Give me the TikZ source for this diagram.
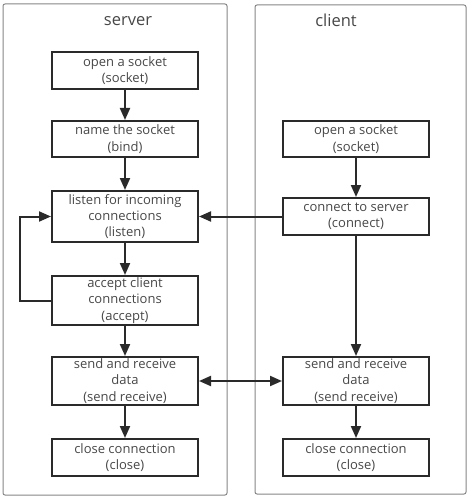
\documentclass[tikz,border=0pt]{standalone}
\usepackage{fontspec}
\setmainfont{Open Sans}
\usetikzlibrary{arrows.meta}
\definecolor{txtgray}{HTML}{474747}
\definecolor{linegray}{HTML}{2A2A2A}
\definecolor{panelgray}{HTML}{858585}
\begin{document}
\begin{tikzpicture}[x=1pt, y=-1pt,
  panel/.style={draw=panelgray, line width=1pt, rounded corners=2pt},
  title/.style={font=\fontsize{16.5}{19}\selectfont, text=txtgray},
  stepbox/.style={draw=linegray, line width=2pt, minimum width=146pt, minimum height=37pt,
    inner sep=0.5pt, align=center, text=txtgray, font=\fontsize{13}{16.4}\selectfont},
  arr/.style={draw=linegray, line width=2pt, -{Triangle[length=12pt, width=10pt]}},
  darr/.style={draw=linegray, line width=2pt, {Triangle[length=12pt, width=10pt]}-{Triangle[length=12pt, width=10pt]}}]
\useasboundingbox (0,0) rectangle (474,500);
% panels
\draw[panel] (3,4) rectangle (227,495);
\draw[panel] (255,5) rectangle (466,494);
\node[title] (srvtitle) at (128,21) {server};
\node[title] (clttitle) at (336,20) {client};
% server side
\node[stepbox] (srvsocket) at (125,70.5) {open a socket\\(socket)};
\node[stepbox, minimum height=36pt] (srvbind) at (125,139) {name the socket\\(bind)};
\node[stepbox, minimum height=51pt] (srvlisten) at (125,216.5) {listen for incoming\\connections\\(listen)};
\node[stepbox, minimum height=49pt] (srvaccept) at (125,300.5) {accept client\\connections\\(accept)};
\node[stepbox, minimum height=48pt] (srvsend) at (125,381) {send and receive\\data\\(send receive)};
\node[stepbox] (srvclose) at (125,457.5) {close connection\\(close)};
% client side
\node[stepbox, minimum height=36pt] (cltsocket) at (356,139) {open a socket\\(socket)};
\node[stepbox] (cltconnect) at (356,216.5) {connect to server\\(connect)};
\node[stepbox, minimum height=48pt] (cltsend) at (356,381) {send and receive\\data\\(send receive)};
\node[stepbox] (cltclose) at (356,457.5) {close connection\\(close)};
% connections
\draw[arr] (srvsocket) -- (srvbind);
\draw[arr] (srvbind) -- (srvlisten);
\draw[arr] (srvlisten) -- (srvaccept);
\draw[arr] (srvaccept) -- (srvsend);
\draw[arr] (srvsend) -- (srvclose);
\draw[arr] (srvaccept.west) -- ++(-31,0) |- (srvlisten.west);
\draw[arr] (cltsocket) -- (cltconnect);
\draw[arr] (cltconnect) -- (cltsend);
\draw[arr] (cltsend) -- (cltclose);
\draw[arr] (cltconnect.west) -- (srvlisten.east);
\draw[darr] (srvsend.east) -- (cltsend.west);
\end{tikzpicture}
\end{document}
